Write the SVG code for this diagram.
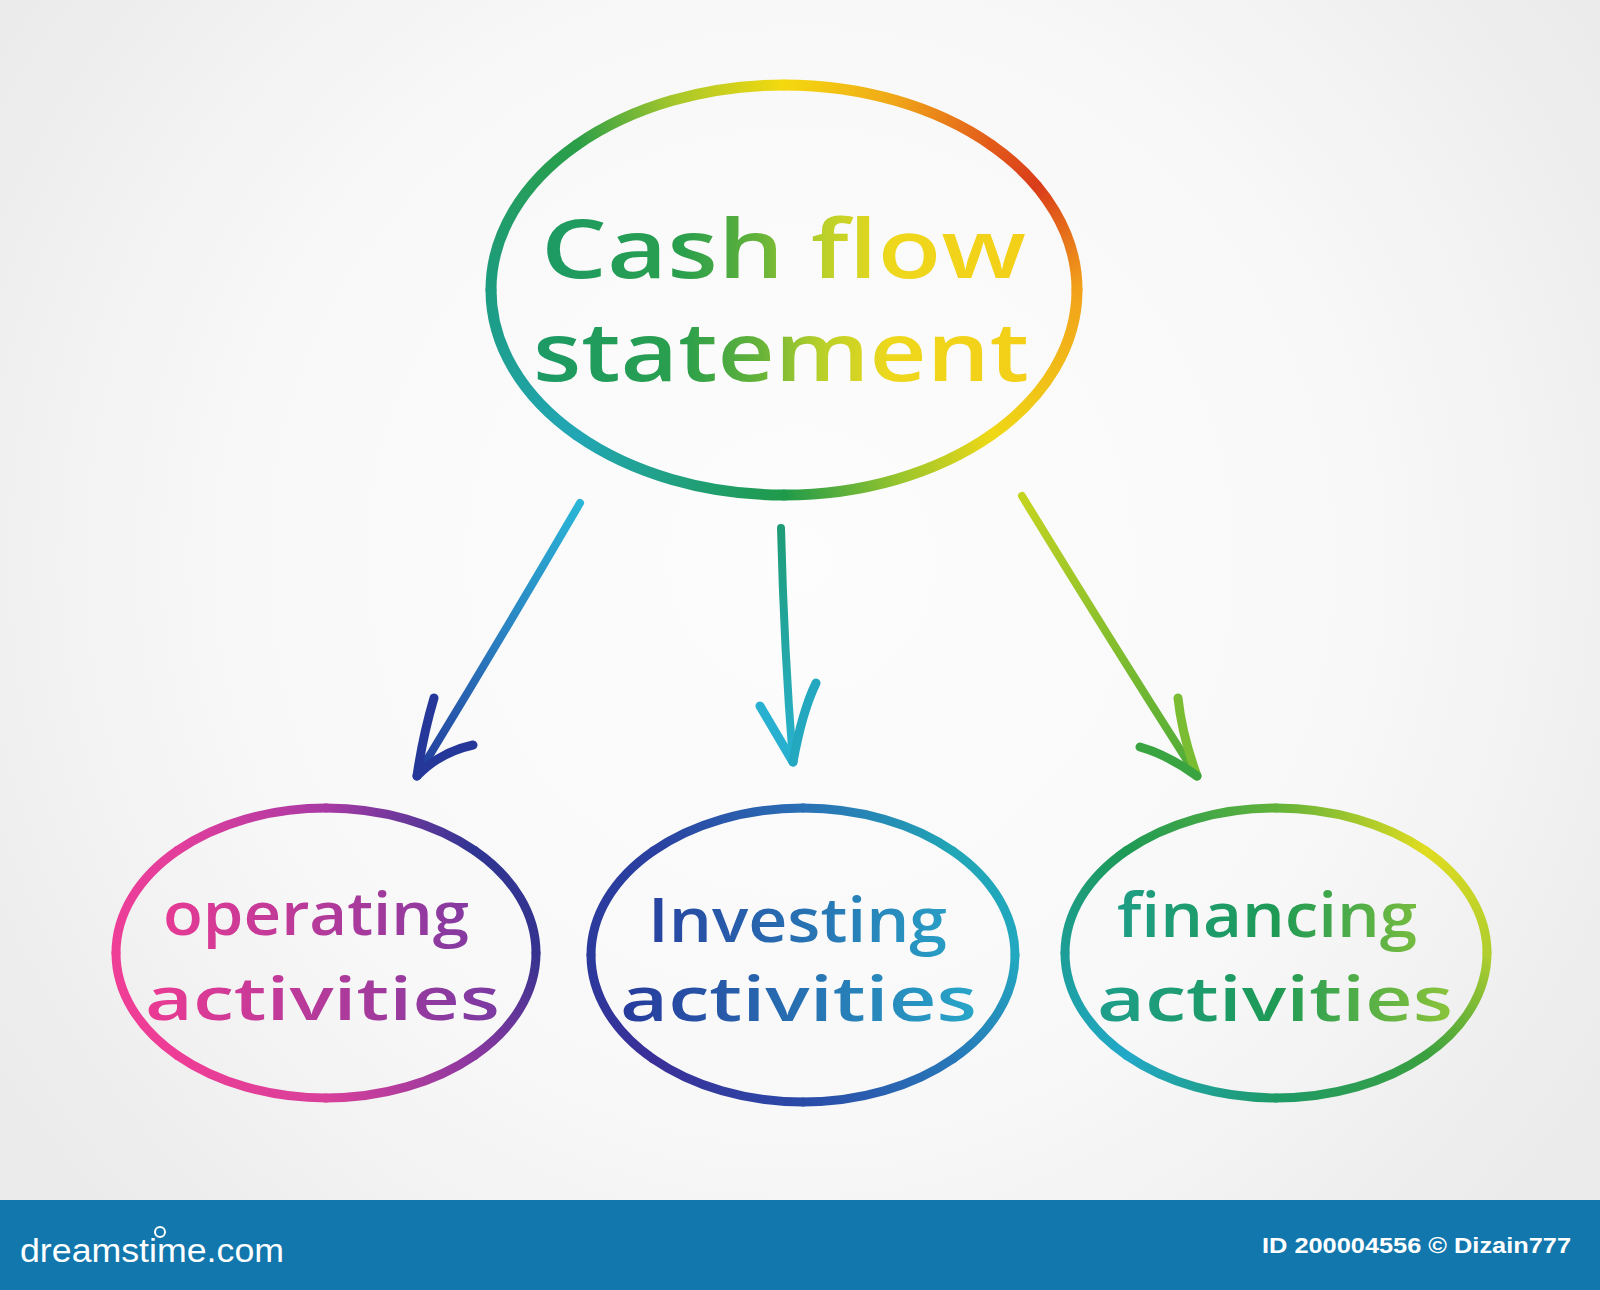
<svg xmlns="http://www.w3.org/2000/svg" width="1600" height="1290" viewBox="0 0 1600 1290">
<style>
.ring{fill:none;stroke-linecap:round;stroke-linejoin:round}
.big{stroke-width:11}
.small{stroke-width:9}
.lbl{font-family:"Open Sans","Noto Sans",sans-serif;font-weight:600}
.arr{fill:none;stroke-linecap:round;stroke-linejoin:round}
.foot{font-family:"Liberation Sans","DejaVu Sans",sans-serif;fill:#ffffff}
</style>
<defs>
<radialGradient id="bg" cx="800" cy="560" r="950" gradientUnits="userSpaceOnUse">
<stop offset="0" stop-color="#fdfdfd"/><stop offset="0.6" stop-color="#f8f8f8"/><stop offset="1" stop-color="#ebebeb"/>
</radialGradient>
<linearGradient id="t1" gradientUnits="userSpaceOnUse" x1="1077" y1="290" x2="991" y2="435"><stop offset="0" stop-color="#f2a21a"/><stop offset="1" stop-color="#efd816"/></linearGradient>
<linearGradient id="t2" gradientUnits="userSpaceOnUse" x1="991" y1="435" x2="784" y2="495"><stop offset="0" stop-color="#efd816"/><stop offset="0.45" stop-color="#9cc62c"/><stop offset="1" stop-color="#1f9a4a"/></linearGradient>
<linearGradient id="t3" gradientUnits="userSpaceOnUse" x1="784" y1="495" x2="577" y2="435"><stop offset="0" stop-color="#1f9a4a"/><stop offset="1" stop-color="#22a6b5"/></linearGradient>
<linearGradient id="t4" gradientUnits="userSpaceOnUse" x1="577" y1="435" x2="491" y2="290"><stop offset="0" stop-color="#22a6b5"/><stop offset="1" stop-color="#1c9c80"/></linearGradient>
<linearGradient id="t5" gradientUnits="userSpaceOnUse" x1="491" y1="290" x2="577" y2="145"><stop offset="0" stop-color="#1c9c80"/><stop offset="1" stop-color="#2a9e48"/></linearGradient>
<linearGradient id="t6" gradientUnits="userSpaceOnUse" x1="577" y1="145" x2="784" y2="85"><stop offset="0" stop-color="#2a9e48"/><stop offset="0.5" stop-color="#a8c82a"/><stop offset="1" stop-color="#f4d90f"/></linearGradient>
<linearGradient id="t7" gradientUnits="userSpaceOnUse" x1="784" y1="85" x2="991" y2="145"><stop offset="0" stop-color="#f4d90f"/><stop offset="0.5" stop-color="#f0a818"/><stop offset="1" stop-color="#e35a1a"/></linearGradient>
<linearGradient id="t8" gradientUnits="userSpaceOnUse" x1="991" y1="145" x2="1077" y2="290"><stop offset="0" stop-color="#e35a1a"/><stop offset="0.35" stop-color="#d93c1a"/><stop offset="1" stop-color="#f2a21a"/></linearGradient>
<linearGradient id="l1" gradientUnits="userSpaceOnUse" x1="536" y1="953" x2="474" y2="1055"><stop offset="0" stop-color="#35338f"/><stop offset="1" stop-color="#8a38a0"/></linearGradient>
<linearGradient id="l2" gradientUnits="userSpaceOnUse" x1="474" y1="1055" x2="326" y2="1098"><stop offset="0" stop-color="#8a38a0"/><stop offset="1" stop-color="#d8409a"/></linearGradient>
<linearGradient id="l3" gradientUnits="userSpaceOnUse" x1="326" y1="1098" x2="177" y2="1055"><stop offset="0" stop-color="#d8409a"/><stop offset="1" stop-color="#ee3d96"/></linearGradient>
<linearGradient id="l4" gradientUnits="userSpaceOnUse" x1="177" y1="1055" x2="116" y2="953"><stop offset="0" stop-color="#ee3d96"/><stop offset="1" stop-color="#ef3e96"/></linearGradient>
<linearGradient id="l5" gradientUnits="userSpaceOnUse" x1="116" y1="953" x2="177" y2="850"><stop offset="0" stop-color="#ef3e96"/><stop offset="1" stop-color="#e33e9c"/></linearGradient>
<linearGradient id="l6" gradientUnits="userSpaceOnUse" x1="177" y1="850" x2="326" y2="808"><stop offset="0" stop-color="#e33e9c"/><stop offset="1" stop-color="#a83aa4"/></linearGradient>
<linearGradient id="l7" gradientUnits="userSpaceOnUse" x1="326" y1="808" x2="474" y2="850"><stop offset="0" stop-color="#a83aa4"/><stop offset="1" stop-color="#2f3592"/></linearGradient>
<linearGradient id="l8" gradientUnits="userSpaceOnUse" x1="474" y1="850" x2="536" y2="953"><stop offset="0" stop-color="#2f3592"/><stop offset="1" stop-color="#35338f"/></linearGradient>
<linearGradient id="m1" gradientUnits="userSpaceOnUse" x1="1015" y1="955" x2="953" y2="1059"><stop offset="0" stop-color="#22a8c0"/><stop offset="1" stop-color="#2878b8"/></linearGradient>
<linearGradient id="m2" gradientUnits="userSpaceOnUse" x1="953" y1="1059" x2="803" y2="1102"><stop offset="0" stop-color="#2878b8"/><stop offset="1" stop-color="#2a4aa8"/></linearGradient>
<linearGradient id="m3" gradientUnits="userSpaceOnUse" x1="803" y1="1102" x2="653" y2="1059"><stop offset="0" stop-color="#2a4aa8"/><stop offset="1" stop-color="#3a2f98"/></linearGradient>
<linearGradient id="m4" gradientUnits="userSpaceOnUse" x1="653" y1="1059" x2="591" y2="955"><stop offset="0" stop-color="#3a2f98"/><stop offset="1" stop-color="#2a3a9c"/></linearGradient>
<linearGradient id="m5" gradientUnits="userSpaceOnUse" x1="591" y1="955" x2="653" y2="851"><stop offset="0" stop-color="#2a3a9c"/><stop offset="1" stop-color="#2a40a0"/></linearGradient>
<linearGradient id="m6" gradientUnits="userSpaceOnUse" x1="653" y1="851" x2="803" y2="808"><stop offset="0" stop-color="#2a40a0"/><stop offset="1" stop-color="#2a70b5"/></linearGradient>
<linearGradient id="m7" gradientUnits="userSpaceOnUse" x1="803" y1="808" x2="953" y2="851"><stop offset="0" stop-color="#2a70b5"/><stop offset="1" stop-color="#20a6b5"/></linearGradient>
<linearGradient id="m8" gradientUnits="userSpaceOnUse" x1="953" y1="851" x2="1015" y2="955"><stop offset="0" stop-color="#20a6b5"/><stop offset="1" stop-color="#22a8c0"/></linearGradient>
<linearGradient id="r1" gradientUnits="userSpaceOnUse" x1="1487" y1="953" x2="1425" y2="1055"><stop offset="0" stop-color="#b0ce2e"/><stop offset="1" stop-color="#3aa040"/></linearGradient>
<linearGradient id="r2" gradientUnits="userSpaceOnUse" x1="1425" y1="1055" x2="1276" y2="1098"><stop offset="0" stop-color="#3aa040"/><stop offset="1" stop-color="#1e9a66"/></linearGradient>
<linearGradient id="r3" gradientUnits="userSpaceOnUse" x1="1276" y1="1098" x2="1127" y2="1055"><stop offset="0" stop-color="#1e9a66"/><stop offset="1" stop-color="#22a8c8"/></linearGradient>
<linearGradient id="r4" gradientUnits="userSpaceOnUse" x1="1127" y1="1055" x2="1065" y2="953"><stop offset="0" stop-color="#22a8c8"/><stop offset="1" stop-color="#1c9e98"/></linearGradient>
<linearGradient id="r5" gradientUnits="userSpaceOnUse" x1="1065" y1="953" x2="1127" y2="850"><stop offset="0" stop-color="#1c9e98"/><stop offset="1" stop-color="#1e9a55"/></linearGradient>
<linearGradient id="r6" gradientUnits="userSpaceOnUse" x1="1127" y1="850" x2="1276" y2="808"><stop offset="0" stop-color="#1e9a55"/><stop offset="1" stop-color="#62b23a"/></linearGradient>
<linearGradient id="r7" gradientUnits="userSpaceOnUse" x1="1276" y1="808" x2="1425" y2="850"><stop offset="0" stop-color="#62b23a"/><stop offset="1" stop-color="#e0dc20"/></linearGradient>
<linearGradient id="r8" gradientUnits="userSpaceOnUse" x1="1425" y1="850" x2="1487" y2="953"><stop offset="0" stop-color="#e0dc20"/><stop offset="1" stop-color="#b0ce2e"/></linearGradient>
<linearGradient id="gTop" gradientUnits="userSpaceOnUse" x1="535" y1="0" x2="1028" y2="0"><stop offset="0" stop-color="#1c9a66"/><stop offset="0.3" stop-color="#2a9f4c"/><stop offset="0.45" stop-color="#62b23a"/><stop offset="0.58" stop-color="#b8d02a"/><stop offset="0.72" stop-color="#eed81c"/><stop offset="1" stop-color="#f4cf18"/></linearGradient>
<linearGradient id="gOp" gradientUnits="userSpaceOnUse" x1="145" y1="0" x2="500" y2="0"><stop offset="0" stop-color="#ec3a93"/><stop offset="1" stop-color="#7a3aa2"/></linearGradient>
<linearGradient id="gInv" gradientUnits="userSpaceOnUse" x1="620" y1="0" x2="977" y2="0"><stop offset="0" stop-color="#273a9c"/><stop offset="1" stop-color="#28a6c8"/></linearGradient>
<linearGradient id="gFin" gradientUnits="userSpaceOnUse" x1="1097" y1="0" x2="1453" y2="0"><stop offset="0" stop-color="#1e9e8c"/><stop offset="0.5" stop-color="#1e9a55"/><stop offset="1" stop-color="#8cc43a"/></linearGradient>
<linearGradient id="aL" gradientUnits="userSpaceOnUse" x1="580" y1="503" x2="416" y2="778"><stop offset="0" stop-color="#2ab6d6"/><stop offset="0.5" stop-color="#2a7fc0"/><stop offset="1" stop-color="#23399a"/></linearGradient>
<linearGradient id="aM" gradientUnits="userSpaceOnUse" x1="781" y1="527" x2="793" y2="763"><stop offset="0" stop-color="#1e9c76"/><stop offset="1" stop-color="#28b2d2"/></linearGradient>
<linearGradient id="aR" gradientUnits="userSpaceOnUse" x1="1022" y1="495" x2="1198" y2="778"><stop offset="0" stop-color="#c4d420"/><stop offset="1" stop-color="#4aaa3a"/></linearGradient>
</defs>

<rect x="0" y="0" width="1600" height="1290" fill="url(#bg)"/>

<g id="node-cash-flow-statement">
<path class="ring big" stroke="url(#t1)" d="M1077 290 A293 205 0 0 1 991.2 435"/>
<path class="ring big" stroke="url(#t2)" d="M991.2 435 A293 205 0 0 1 784 495"/>
<path class="ring big" stroke="url(#t3)" d="M784 495 A293 205 0 0 1 576.8 435"/>
<path class="ring big" stroke="url(#t4)" d="M576.8 435 A293 205 0 0 1 491 290"/>
<path class="ring big" stroke="url(#t5)" d="M491 290 A293 205 0 0 1 576.8 145"/>
<path class="ring big" stroke="url(#t6)" d="M576.8 145 A293 205 0 0 1 784 85"/>
<path class="ring big" stroke="url(#t7)" d="M784 85 A293 205 0 0 1 991.2 145"/>
<path class="ring big" stroke="url(#t8)" d="M991.2 145 A293 205 0 0 1 1077 290"/>
<text class="lbl" font-size="82" fill="url(#gTop)"><tspan x="541" y="278" textLength="485" lengthAdjust="spacingAndGlyphs">Cash flow</tspan><tspan x="533" y="381" textLength="496" lengthAdjust="spacingAndGlyphs">statement</tspan></text>
</g>

<g id="node-operating-activities">
<path class="ring small" stroke="url(#l1)" d="M536 953 A210 145 0 0 1 474.5 1055.5"/>
<path class="ring small" stroke="url(#l2)" d="M474.5 1055.5 A210 145 0 0 1 326 1098"/>
<path class="ring small" stroke="url(#l3)" d="M326 1098 A210 145 0 0 1 177.5 1055.5"/>
<path class="ring small" stroke="url(#l4)" d="M177.5 1055.5 A210 145 0 0 1 116 953"/>
<path class="ring small" stroke="url(#l5)" d="M116 953 A210 145 0 0 1 177.5 850.5"/>
<path class="ring small" stroke="url(#l6)" d="M177.5 850.5 A210 145 0 0 1 326 808"/>
<path class="ring small" stroke="url(#l7)" d="M326 808 A210 145 0 0 1 474.5 850.5"/>
<path class="ring small" stroke="url(#l8)" d="M474.5 850.5 A210 145 0 0 1 536 953"/>
<text class="lbl" font-size="60" fill="url(#gOp)"><tspan x="163" y="935" textLength="306" lengthAdjust="spacingAndGlyphs">operating</tspan><tspan x="145" y="1020" textLength="355" lengthAdjust="spacingAndGlyphs">activities</tspan></text>
</g>

<g id="node-investing-activities">
<path class="ring small" stroke="url(#m1)" d="M1015 955 A212 147 0 0 1 952.9 1058.9"/>
<path class="ring small" stroke="url(#m2)" d="M952.9 1058.9 A212 147 0 0 1 803 1102"/>
<path class="ring small" stroke="url(#m3)" d="M803 1102 A212 147 0 0 1 653.1 1058.9"/>
<path class="ring small" stroke="url(#m4)" d="M653.1 1058.9 A212 147 0 0 1 591 955"/>
<path class="ring small" stroke="url(#m5)" d="M591 955 A212 147 0 0 1 653.1 851.1"/>
<path class="ring small" stroke="url(#m6)" d="M653.1 851.1 A212 147 0 0 1 803 808"/>
<path class="ring small" stroke="url(#m7)" d="M803 808 A212 147 0 0 1 952.9 851.1"/>
<path class="ring small" stroke="url(#m8)" d="M952.9 851.1 A212 147 0 0 1 1015 955"/>
<text class="lbl" font-size="62" fill="url(#gInv)"><tspan x="648" y="942" textLength="299" lengthAdjust="spacingAndGlyphs">Investing</tspan><tspan x="620" y="1021" textLength="357" lengthAdjust="spacingAndGlyphs">activities</tspan></text>
</g>

<g id="node-financing-activities">
<path class="ring small" stroke="url(#r1)" d="M1487 953 A211 145 0 0 1 1425.2 1055.5"/>
<path class="ring small" stroke="url(#r2)" d="M1425.2 1055.5 A211 145 0 0 1 1276 1098"/>
<path class="ring small" stroke="url(#r3)" d="M1276 1098 A211 145 0 0 1 1126.8 1055.5"/>
<path class="ring small" stroke="url(#r4)" d="M1126.8 1055.5 A211 145 0 0 1 1065 953"/>
<path class="ring small" stroke="url(#r5)" d="M1065 953 A211 145 0 0 1 1126.8 850.5"/>
<path class="ring small" stroke="url(#r6)" d="M1126.8 850.5 A211 145 0 0 1 1276 808"/>
<path class="ring small" stroke="url(#r7)" d="M1276 808 A211 145 0 0 1 1425.2 850.5"/>
<path class="ring small" stroke="url(#r8)" d="M1425.2 850.5 A211 145 0 0 1 1487 953"/>
<text class="lbl" font-size="62" fill="url(#gFin)"><tspan x="1117" y="937" textLength="300" lengthAdjust="spacingAndGlyphs">financing</tspan><tspan x="1097" y="1021" textLength="356" lengthAdjust="spacingAndGlyphs">activities</tspan></text>
</g>

<g id="connectors">
<g id="arrow-to-operating">
<path class="arr" stroke="url(#aL)" stroke-width="8" d="M580 503 Q500 640 417 776"/>
<path class="arr" stroke="#25389a" stroke-width="9" d="M417 776 Q423 735 434 698"/>
<path class="arr" stroke="#25389a" stroke-width="9" d="M417 776 Q440 752 473 745"/>
</g>
<g id="arrow-to-investing">
<path class="arr" stroke="url(#aM)" stroke-width="8" d="M781 528 Q784 650 793 762"/>
<path class="arr" stroke="#28b0d0" stroke-width="9" d="M793 762 Q776 733 760 706"/>
<path class="arr" stroke="#24a8c0" stroke-width="9" d="M793 762 Q802 712 816 683"/>
</g>
<g id="arrow-to-financing">
<path class="arr" stroke="url(#aR)" stroke-width="8" d="M1022 496 Q1110 640 1197 776"/>
<path class="arr" stroke="#7abc32" stroke-width="9" d="M1197 776 Q1182 735 1178 698"/>
<path class="arr" stroke="#3aa540" stroke-width="9" d="M1197 776 Q1168 755 1140 747"/>
</g>
</g>

<rect x="0" y="1200" width="1600" height="90" fill="#1277ad"/>
<text class="foot" x="20" y="1262" font-size="34" textLength="264" lengthAdjust="spacingAndGlyphs">dreamstime.com</text>
<circle cx="160" cy="1232" r="5" fill="none" stroke="#ffffff" stroke-width="2"/>
<text class="foot" x="1571" y="1253" font-size="22" font-weight="bold" text-anchor="end" textLength="309" lengthAdjust="spacingAndGlyphs">ID 200004556 © Dizain777</text>
</svg>
